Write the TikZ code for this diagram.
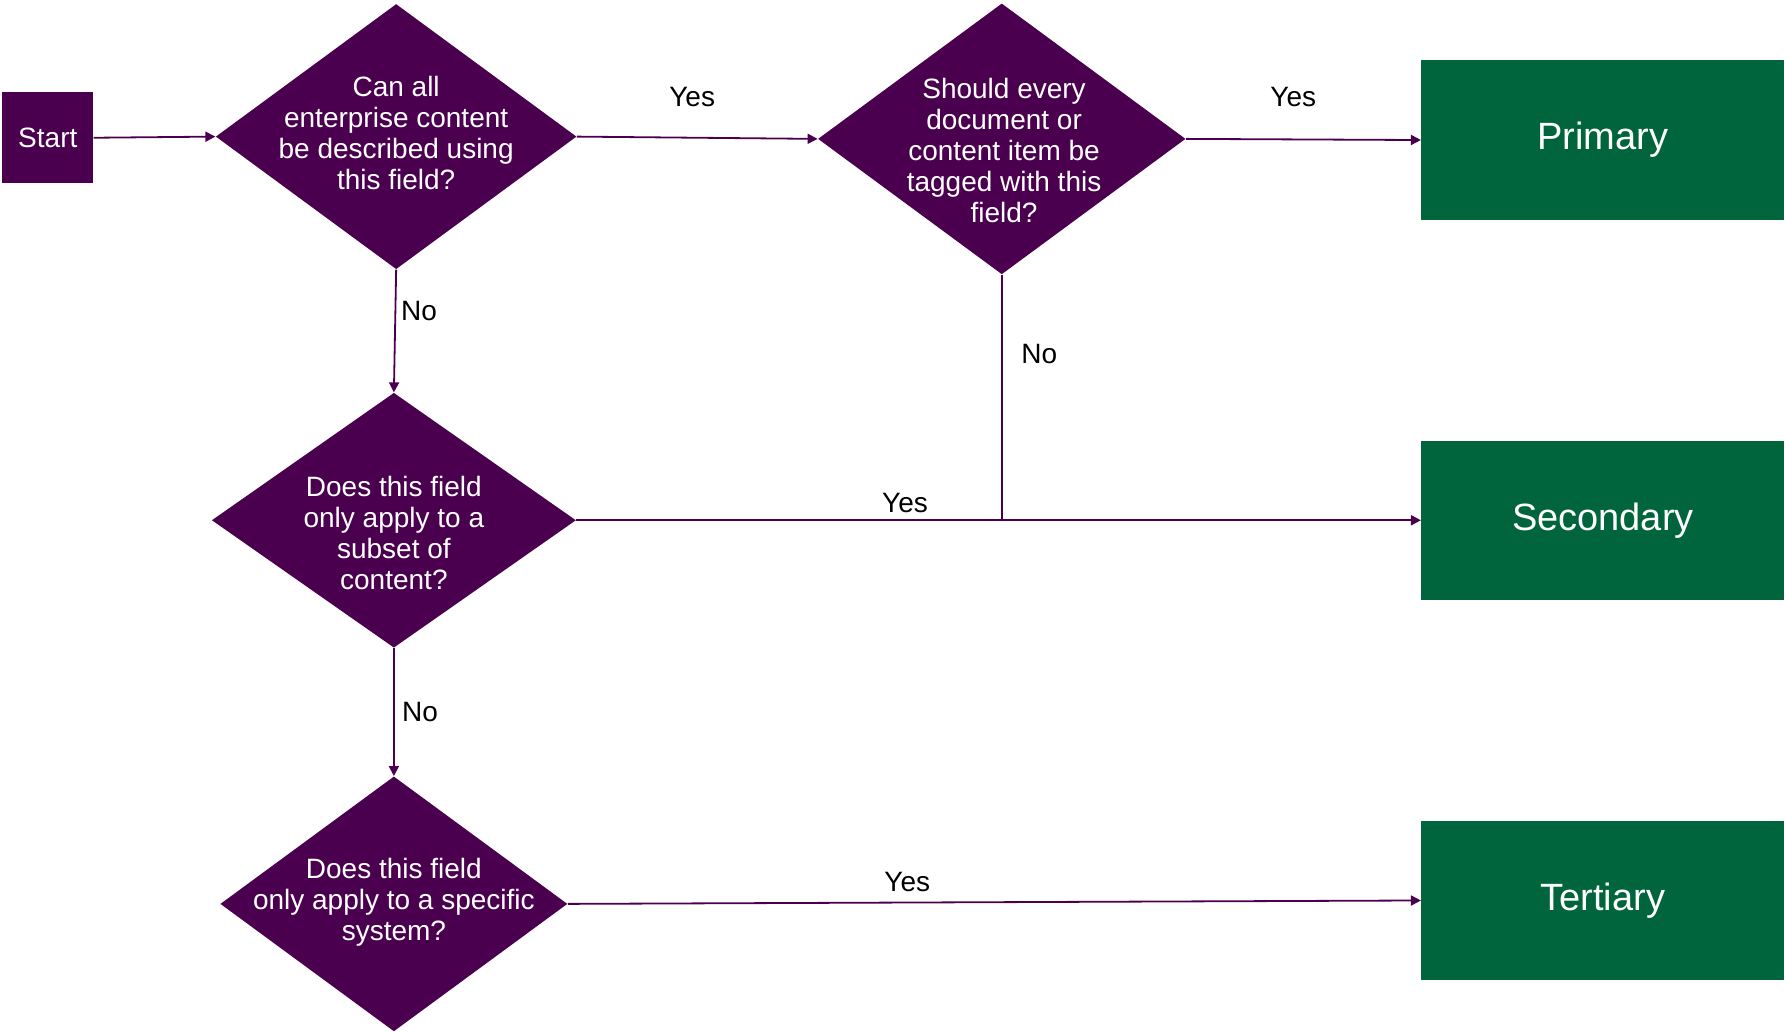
\documentclass[tikz,border=0pt]{standalone}
\usepackage{fontspec}
\setmainfont{Liberation Sans}
\usetikzlibrary{shapes.geometric,arrows.meta}
\definecolor{pur}{HTML}{4A004E}
\definecolor{grn}{HTML}{00643C}
\begin{document}
\begin{tikzpicture}[x=0.02cm,y=-0.02cm,
  dia/.style={diamond,fill=pur,inner sep=0pt,minimum width=#1},
  dtext/.style={text=white,align=center,font=\fontsize{14}{15.5}\selectfont},
  box/.style={fill=grn,text=white,minimum width=6.38cm,minimum height=2.8cm,inner sep=0pt,font=\fontsize{19}{22}\selectfont},
  arr/.style={draw=pur,line width=0.9pt,-{Triangle[length=5pt,width=5pt]}},
  lab/.style={font=\fontsize{14}{16}\selectfont}]
\useasboundingbox (0,0) rectangle (1568,906);
\node[fill=pur,text=white,minimum width=1.6cm,minimum height=1.6cm,inner sep=0pt,font=\fontsize{14}{16}\selectfont] (start) at (42,121) {Start};
\node[dia=6.34cm,minimum height=4.66cm,aspect=1.36] (d1) at (348,120) {};
\node[dtext] at (348,117) {Can all\\enterprise content\\be described using\\this field?};
\node[dia=6.46cm,minimum height=4.76cm,aspect=1.36] (d2) at (880,122) {};
\node[dtext] at (882,132) {Should every\\document or\\content item be\\tagged with this\\field?};
\node[dia=6.4cm,minimum height=4.48cm,aspect=1.43] (d3) at (346,457) {};
\node[dtext] at (346,468) {Does this field\\only apply to a\\subset of\\content?};
\node[dia=6.1cm,minimum height=4.48cm,aspect=1.36] (d4) at (346,794) {};
\node[dtext] at (346,793) {Does this field\\only apply to a specific\\system?};
\node[box] (p) at (1408,123) {Primary};
\node[box] (s) at (1408,457) {Secondary};
\node[box] (t) at (1408,791) {Tertiary};
\coordinate (j) at (880,457);
\draw[arr] (start.east) -- (d1.west);
\draw[arr] (d1.east) -- (d2.west);
\draw[arr] (d2.east) -- (p.west);
\draw[arr] (d1.south) -- (d3.north);
\draw[arr] (d3.east) -- (s.west);
\draw[draw=pur,line width=0.9pt] (d2.south) -- (j);
\draw[arr] (d3.south) -- (d4.north);
\draw[arr] (d4.east) -- (t.west);
\node[lab] at (608,85) {Yes};
\node[lab] at (1136,85) {Yes};
\node[lab] at (368,273) {No};
\node[lab] at (913,311) {No};
\node[lab] at (795,442) {Yes};
\node[lab] at (369,625) {No};
\node[lab] at (797,775) {Yes};
\end{tikzpicture}
\end{document}
